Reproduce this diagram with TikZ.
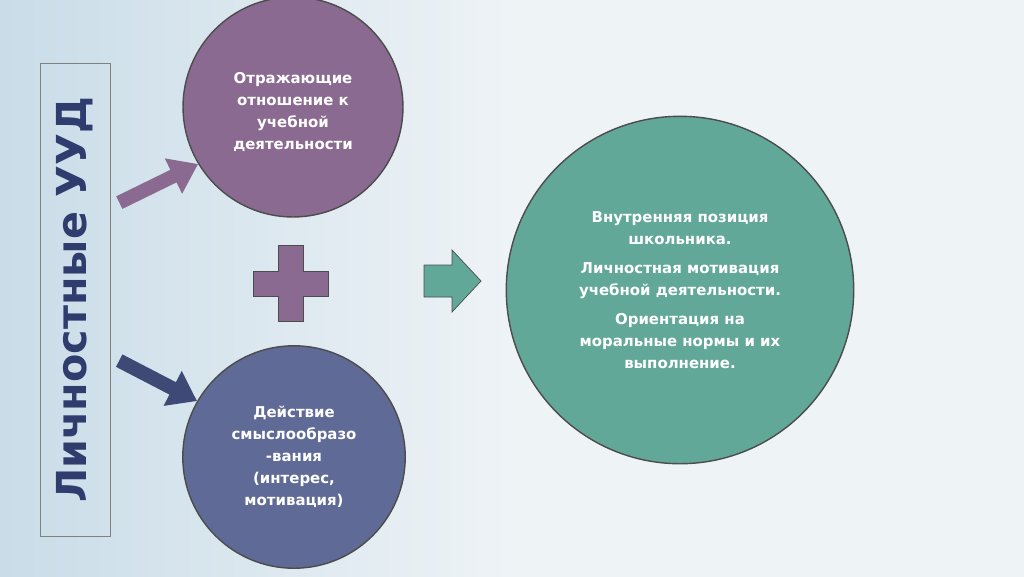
\documentclass[tikz,border=0pt]{standalone}
\usepackage{fontspec}
\setmainfont{DejaVu Sans}
\usetikzlibrary{positioning, arrows.meta}
\definecolor{bgpale}{HTML}{EEF3F6}
\definecolor{bgblue}{HTML}{C9DCE8}
\definecolor{titleblue}{HTML}{2E3C6E}
\definecolor{plum}{HTML}{8A6A90}
\definecolor{slate}{HTML}{5F6B96}
\definecolor{teal}{HTML}{62A899}
\definecolor{navy}{HTML}{3E4A75}
\tikzset{
    bubble/.style={circle, draw=black!70, thick, text=white, align=center, font=\bfseries\fontsize{8.5}{12.5}\selectfont, inner sep=0pt},
    blockarrow/.style={-{Triangle[length=0.55cm, width=0.75cm]}, line width=0.28cm, shorten <=0.2cm}
}
\begin{document}
\begin{tikzpicture}[x=0.02cm, y=-0.02cm]
    % Background
    \shade[left color=bgblue, right color=bgpale, middle color=bgpale] (0,0) rectangle (1024,576);
    \useasboundingbox (0,0) rectangle (1024,576);

    % Title box
    \node[draw=black!50, minimum width=1.4cm, minimum height=9.46cm, inner sep=0pt] (Title) at (75,300) {};
    \node[rotate=90, text=titleblue, font=\bfseries\fontsize{23.5}{26}\selectfont] at (Title) {Личностные УУД};

    % Circles
    \node[bubble, fill=plum, minimum size=4.4cm] (Relation) at (293,107) {};
    \node[white, font=\bfseries\fontsize{8.5}{12.5}\selectfont, align=center] at (293,112) {Отражающие\\отношение к\\учебной\\деятельности};
    \node[bubble, fill=slate, minimum size=4.45cm] (Meaning) at (294,457) {Действие\\смыслообразо\\-вания\\(интерес,\\мотивация)};
    \node[bubble, fill=teal, minimum size=6.95cm] (Result) at (680,290) {};
    \node[white, font=\bfseries\fontsize{8.5}{12.5}\selectfont, align=center] at (680,290) {Внутренняя позиция\\школьника.\\[4pt]Личностная мотивация\\учебной деятельности.\\[4pt]Ориентация на\\моральные нормы и их\\выполнение.};

    % Arrows
    \draw[blockarrow, plum] (Title.east |- 0,207) -- (Relation.211);
    \draw[blockarrow, navy] (Title.east |- 0,356) -- (Meaning.150);

    % Plus
    \draw[draw=black!70, fill=plum] (278,245) -- (303,245) -- (303,271) -- (328,271) -- (328,296) -- (303,296) -- (303,321) -- (278,321) -- (278,296) -- (253,296) -- (253,271) -- (278,271) -- cycle;

    % Result arrow
    \draw[draw=black!70, fill=teal] (424,265) -- (452,265) -- (452,250) -- (481,281) -- (452,312) -- (452,297) -- (424,297) -- cycle;
\end{tikzpicture}
\end{document}
